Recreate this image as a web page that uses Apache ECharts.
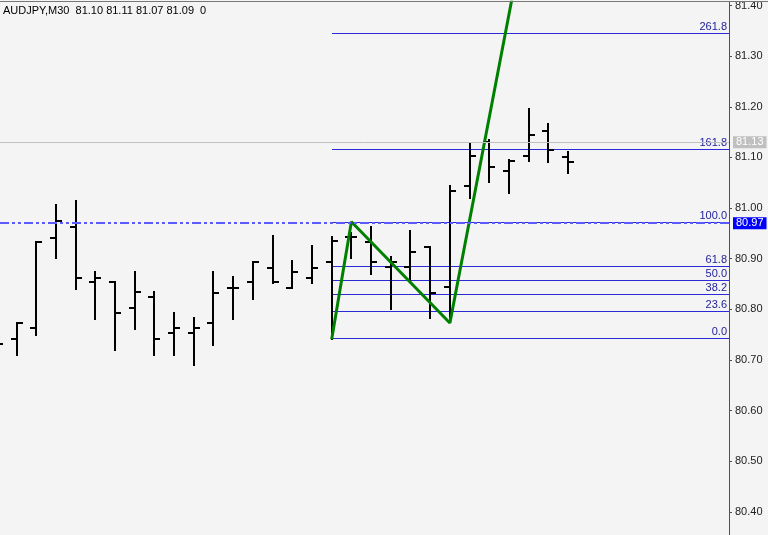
<!DOCTYPE html>
<html>
<head>
<meta charset="utf-8">
<title>AUDJPY,M30</title>
<script src="https://cdn.jsdelivr.net/npm/echarts@6/dist/echarts.min.js"></script>
<style>
  html, body { margin: 0; padding: 0; background: #f4f4f4; }
  #main { width: 768px; height: 535px; }
</style>
</head>
<body>
<div id="main"></div>
<script>
var symbolName = 'AUDJPY,M30';

// bars, index 0 is the one cut off at the left edge
var opens  = [80.740, 80.741, 80.764, 80.941, 80.962, 80.854, 80.854, 80.802, 80.824, 80.754,
              80.754, 80.772, 80.842, 80.854, 80.882, 80.842, 80.862, 80.894, 80.942, 80.933,
              80.883, 80.883, 80.923, 80.844, 81.044, 81.130, 81.073, 81.102, 81.153, 81.100];
var highs  = [80.760, 80.773, 80.933, 81.005, 81.013, 80.873, 80.854, 80.874, 80.835, 80.793,
              80.783, 80.874, 80.864, 80.894, 80.944, 80.895, 80.925, 80.943, 80.951, 80.962,
              80.903, 80.954, 80.923, 81.044, 81.126, 81.135, 81.094, 81.196, 81.165, 81.110];
var lows   = [80.710, 80.710, 80.750, 80.902, 80.841, 80.781, 80.720, 80.762, 80.710, 80.710,
              80.690, 80.729, 80.781, 80.821, 80.852, 80.842, 80.852, 80.741, 80.902, 80.870,
              80.800, 80.856, 80.782, 80.777, 81.020, 81.051, 81.030, 81.092, 81.091, 81.070];
var closes = [80.731, 80.772, 80.933, 80.974, 80.862, 80.862, 80.792, 80.834, 80.741, 80.764,
              80.764, 80.833, 80.842, 80.894, 80.854, 80.873, 80.882, 80.934, 80.942, 80.894,
              80.894, 80.913, 80.833, 81.033, 81.102, 81.082, 81.092, 81.145, 81.114, 81.090];

var yTicks = [80.40, 80.50, 80.60, 80.70, 80.80, 80.90, 81.00, 81.10, 81.20, 81.30, 81.40];

// fibo retracement
var fibLabels = ['0.0', '23.6', '38.2', '50.0', '61.8', '100.0', '161.8', '261.8'];
var fibPrices = [80.743, 80.797, 80.831, 80.858, 80.886, 80.973, 81.116, 81.346];
var fibStart = 17;

// zigzag (last point runs off the top)
var zigzagX = [17, 18, 23, 27];
var zigzagY = [80.741, 80.973, 80.773, 81.586];

var bidPrice = 81.13;
var levelPrice = 80.973;

var xMin = 0.1624, xMax = 37.168;
var yMin = 80.3542, yMax = 81.4065;
var font = 'Liberation Sans';

var myChart = echarts.init(document.getElementById('main'));

var bars = opens.map(function (o, i) {
    return [i, o, highs[i], lows[i], closes[i]];
});

var last = bars[bars.length - 1];
var titleText = symbolName + '  ' + last.slice(1).map(function (v) { return v.toFixed(2); }).join(' ') + '  0';

function crisp(v) { return Math.round(v) + 0.5; }

var option = {
    animation: false,
    backgroundColor: '#f4f4f4',
    title: {
        text: titleText,
        left: 3,
        top: 5,
        padding: 0,
        textStyle: { fontFamily: font, fontSize: 11, fontWeight: 'normal', color: '#000' }
    },
    grid: { left: 0, right: 39, top: 0, bottom: 0 },
    xAxis: {
        type: 'value',
        min: xMin,
        max: xMax,
        show: false
    },
    yAxis: {
        type: 'value',
        position: 'right',
        min: yMin,
        max: yMax,
        axisLine: { show: true, lineStyle: { color: '#505050', width: 1 } },
        axisTick: { show: true, length: 3, customValues: yTicks, lineStyle: { color: '#505050' } },
        axisLabel: {
            customValues: yTicks,
            margin: 6,
            fontFamily: font,
            fontSize: 11,
            color: '#222',
            formatter: function (v) { return v.toFixed(2); }
        },
        splitLine: { show: false }
    },
    graphic: [{
        type: 'line',
        shape: { x1: 0, y1: 1.5, x2: 768, y2: 1.5 },
        style: { stroke: '#777', lineWidth: 1 },
        z: 100
    }],
    series: [
        {
            name: 'lines',
            type: 'line',
            data: [],
            z: 1,
            markLine: {
                silent: true,
                symbol: ['none', 'none'],
                label: { fontFamily: font, fontSize: 11 },
                data: [
                    {
                        yAxis: bidPrice,
                        lineStyle: { color: '#c0c0c0', width: 1, type: 'solid' },
                        label: {
                            position: 'end',
                            distance: 4,
                            backgroundColor: '#c0c0c0',
                            color: '#fff',
                            padding: [1, 3, 0, 3],
                            formatter: function (p) { return p.value.toFixed(2); }
                        }
                    },
                    {
                        yAxis: levelPrice,
                        lineStyle: { color: '#5a5aff', width: 2, type: [9, 3, 3, 3, 3, 3] },
                        label: {
                            position: 'end',
                            distance: 4,
                            backgroundColor: '#0000ff',
                            color: '#fff',
                            padding: [1, 3, 0, 3],
                            formatter: function (p) { return p.value.toFixed(2); }
                        }
                    }
                ]
            }
        },
        {
            name: 'fibo',
            type: 'custom',
            z: 1,
            clip: true,
            silent: true,
            data: fibPrices.map(function (p, i) { return [fibStart, p, i]; }),
            encode: { x: 0, y: 1 },
            renderItem: function (params, api) {
                var s = api.coord([api.value(0), api.value(1)]);
                var right = params.coordSys.x + params.coordSys.width;
                var y = crisp(s[1]);
                return {
                    type: 'group',
                    children: [
                        {
                            type: 'line',
                            shape: { x1: Math.round(s[0]), y1: y, x2: right, y2: y },
                            style: { stroke: '#2a2ad8', lineWidth: 1.2 }
                        },
                        {
                            type: 'text',
                            x: right - 2,
                            y: y - 1,
                            style: {
                                text: fibLabels[api.value(2)],
                                align: 'right',
                                verticalAlign: 'bottom',
                                fontFamily: font,
                                fontSize: 11,
                                fill: '#22229a'
                            }
                        }
                    ]
                };
            }
        },
        {
            name: 'bars',
            type: 'custom',
            z: 2,
            clip: true,
            data: bars,
            encode: { x: 0, y: [1, 2, 3, 4] },
            renderItem: function (params, api) {
                var i = api.value(0);
                var o = api.coord([i, api.value(1)]);
                var h = api.coord([i, api.value(2)]);
                var l = api.coord([i, api.value(3)]);
                var c = api.coord([i, api.value(4)]);
                var x = Math.round(h[0]);
                var yo = Math.round(o[1]), yc = Math.round(c[1]);
                var st = { stroke: '#000', lineWidth: 2 };
                return {
                    type: 'group',
                    children: [
                        { type: 'line', shape: { x1: x, y1: Math.round(h[1]) - 1, x2: x, y2: Math.round(l[1]) + 1 }, style: st },
                        { type: 'line', shape: { x1: x - 6, y1: yo, x2: x, y2: yo }, style: st },
                        { type: 'line', shape: { x1: x, y1: yc, x2: x + 6, y2: yc }, style: st }
                    ]
                };
            }
        },
        {
            name: 'zigzag',
            type: 'line',
            z: 3,
            clip: true,
            showSymbol: false,
            data: zigzagX.map(function (x, i) { return [x, zigzagY[i]]; }),
            lineStyle: { color: '#008000', width: 3 }
        }
    ]
};

myChart.setOption(option);
</script>
</body>
</html>
